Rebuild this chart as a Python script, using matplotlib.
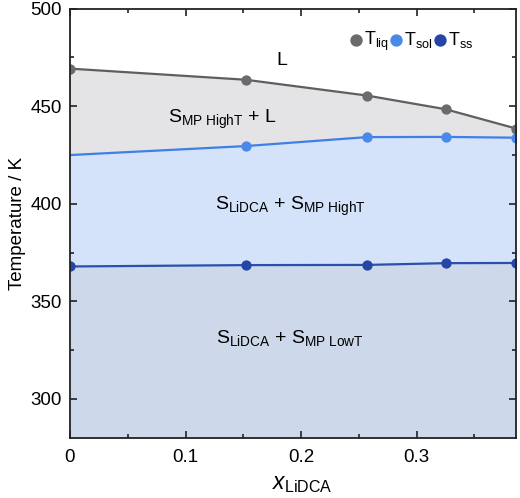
import matplotlib
matplotlib.use("Agg")
import matplotlib.pyplot as plt
from matplotlib.ticker import MultipleLocator

plt.rcParams['font.family'] = ['Liberation Sans', 'DejaVu Sans']
plt.rcParams['mathtext.fontset'] = 'custom'
plt.rcParams['mathtext.rm'] = 'Liberation Sans'
plt.rcParams['mathtext.it'] = 'Liberation Sans:italic'

x_liq = [0.0, 0.152, 0.257, 0.325, 0.386]
t_liq = [469.3, 463.6, 455.5, 448.5, 438.6]
x_sol = [0.0, 0.152, 0.257, 0.325, 0.386]
t_sol = [425.0, 429.6, 434.2, 434.3, 433.9]
x_ss = [0.0, 0.152, 0.257, 0.325, 0.386]
t_ss = [367.9, 368.6, 368.7, 369.6, 369.7]

c_liq = '#6b6b6b'
c_sol = '#4a88ea'
c_ss = '#2646a6'

fig = plt.figure(figsize=(5.2, 4.98), dpi=100)
ax = fig.add_axes([0.1346, 0.1205, 0.9923 - 0.1346, 0.9825 - 0.1205])

ymin, ymax = 280, 500
ax.fill_between(x_liq, t_liq, t_sol, color='#e4e3e5', lw=0)
ax.fill_between(x_sol, t_sol, t_ss, color='#d4e3f9', lw=0)
ax.fill_between(x_ss, t_ss, ymin, color='#cdd8ea', lw=0)

ms = 55
ax.plot(x_liq, t_liq, '-', color='#5f5f5f', lw=1.6, zorder=3)
ax.scatter(x_liq, t_liq, s=ms, color=c_liq, zorder=4, lw=0, label=r'T$_{\mathrm{liq}}$')
ax.plot(x_sol, t_sol, '-', color='#3f7fe6', lw=1.6, zorder=3)
ax.scatter(x_sol[1:], t_sol[1:], s=ms, color=c_sol, zorder=4, lw=0, label=r'T$_{\mathrm{sol}}$')
ax.plot(x_ss, t_ss, '-', color='#2a4fae', lw=1.6, zorder=3)
ax.scatter(x_ss, t_ss, s=ms, color=c_ss, zorder=4, lw=0, label=r'T$_{\mathrm{ss}}$')

ax.set_xlim(0, 0.386)
ax.set_ylim(ymin, ymax)
ax.xaxis.set_major_locator(MultipleLocator(0.1))
ax.xaxis.set_minor_locator(MultipleLocator(0.05))
ax.yaxis.set_major_locator(MultipleLocator(50))
ax.yaxis.set_minor_locator(MultipleLocator(25))
ax.set_xticks([0, 0.1, 0.2, 0.3])
ax.set_xticklabels(['0', '0.1', '0.2', '0.3'])
ax.tick_params(which='both', direction='in', top=True, right=True, labelsize=13.5, width=1.2, color='#222222')
ax.tick_params(which='major', length=5)
ax.tick_params(which='minor', length=3)
ax.tick_params(axis='x', pad=8)
ax.tick_params(axis='y', pad=6)
for s in ax.spines.values():
    s.set_linewidth(1.3)
    s.set_color('#222222')
    s.set_zorder(5)

ax.set_ylabel('Temperature / K', fontsize=13.5, labelpad=3)
ax.set_xlabel(r'$\mathit{x}_{\mathrm{LiDCA}}$', fontsize=16.5, labelpad=4, x=0.52)

ax.text(0.183, 473.5, 'L', fontsize=14, ha='center', va='center')
ax.text(0.132, 443.5, r'S$_{\mathrm{MP\ HighT}}$ + L', fontsize=14, ha='center', va='center')
ax.text(0.191, 398.5, r'S$_{\mathrm{LiDCA}}$ + S$_{\mathrm{MP\ HighT}}$', fontsize=14, ha='center', va='center')
ax.text(0.19, 331, r'S$_{\mathrm{LiDCA}}$ + S$_{\mathrm{MP\ LowT}}$', fontsize=14, ha='center', va='center')

ax.legend(loc='center right', bbox_to_anchor=(0.905, 0.925), ncol=3, frameon=False,
          handlelength=0.5, handletextpad=0.2, columnspacing=0.15, fontsize=13,
          borderaxespad=0, borderpad=0, scatterpoints=1, markerscale=1.2)

fig.savefig('out.png', dpi=100)
